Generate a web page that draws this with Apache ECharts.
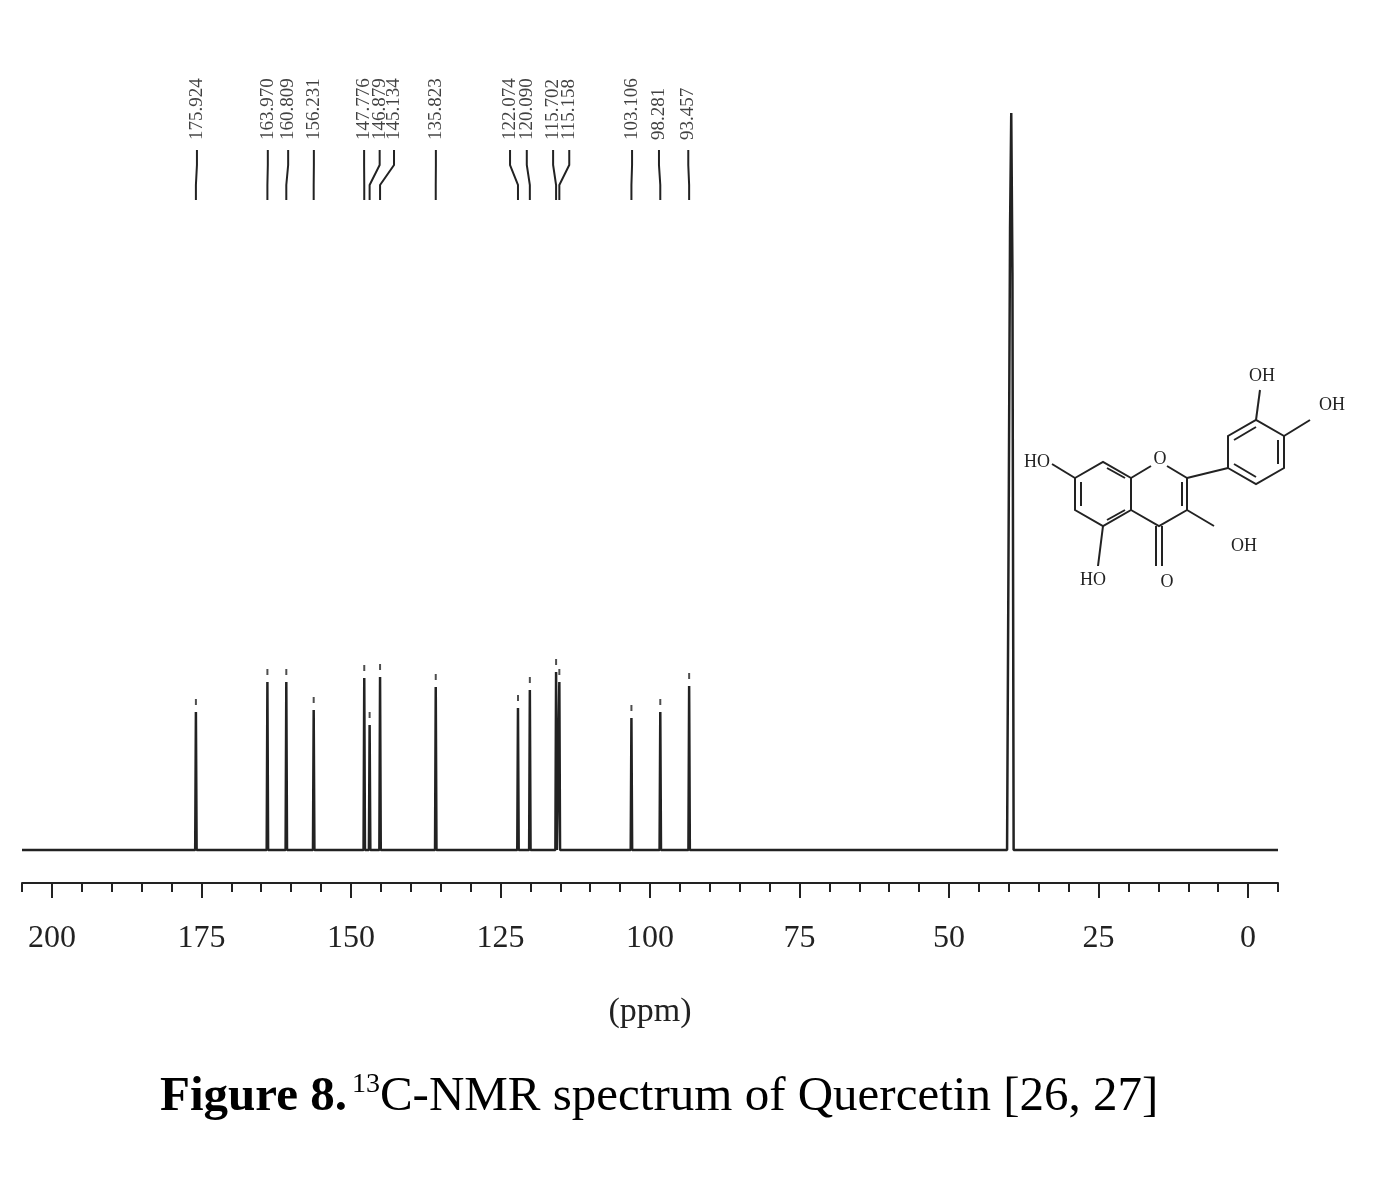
<!DOCTYPE html>
<html><head><meta charset="utf-8">
<script src="https://cdn.jsdelivr.net/npm/echarts@6/dist/echarts.min.js"></script>
<style>html,body{margin:0;background:#fff}#c{width:1397px;height:1188px}</style>
</head><body><div id="c"></div>
<script>
// peak shifts (ppm) and heights (arbitrary units above axis)
const peakPpm = [175.924,163.970,160.809,156.231,147.776,146.879,145.134,135.823,122.074,120.090,115.702,115.158,103.106,98.281,93.457];
const peakHeight = [171,201,201,173,205,158,206,196,175,193,211,201,165,171,197];
const peakLabels = ["175.924","163.970","160.809","156.231","147.776","146.879","145.134","135.823","122.074","120.090","115.702","115.158","103.106","98.281","93.457"];
const labelPpm = [175.75,163.9,160.5,156.2,147.8,145.2,142.8,135.8,123.4,120.6,116.2,113.5,103.0,98.5,93.6];
const solventPpm = [40.3,40.0,39.8,39.6,39.4,39.2];
const solventHeight = [33,400,655,770,610,33];
const baseLevel = 33;
const xTicks = [0,25,50,75,100,125,150,175,200];

const spec = [[205,baseLevel]];
const all = peakPpm.map((p,i)=>[p,peakHeight[i]]);
all.sort((a,b)=>b[0]-a[0]);
for(const [p,h] of all){spec.push([p+0.12,baseLevel],[p,h],[p-0.12,baseLevel]);}
solventPpm.forEach((p,i)=>spec.push([p,solventHeight[i]]));
spec.push([-5,baseLevel]);

const yTop=733, yBend1=718, yBend2=698, yBot=683;
const connectors = peakPpm.map((p,i)=>({coords:[[labelPpm[i],yTop],[labelPpm[i],yBend1],[p,yBend2],[p,yBot]]}));

const chart = echarts.init(document.getElementById('c'));
const serif = 'Liberation Serif';
const g = [];
function line(pts){g.push({type:'polyline',shape:{points:pts},style:{stroke:'#222',lineWidth:2,fill:null}});}
function txt(x,y,t){g.push({type:'text',x:x,y:y,style:{text:t,font:'18px "Liberation Serif"',fill:'#222',align:'center',verticalAlign:'middle'}});}
line([[1075,478],[1103,462],[1131,478],[1131,510],[1103,526],[1075,510],[1075,478]]);
line([[1081,482],[1081,506]]); line([[1107,520],[1125,510]]); line([[1107,468],[1125,478]]);
line([[1131,478],[1151,466]]); line([[1167,466],[1187,478],[1187,510],[1159,526],[1131,510]]);
line([[1182,482],[1182,506]]);
line([[1156,526],[1156,566]]); line([[1162,526],[1162,566]]);
line([[1187,510],[1214,526]]);
line([[1075,478],[1052,464]]); line([[1103,526],[1098,566]]);
line([[1187,478],[1228,468]]);
line([[1228,468],[1228,436],[1256,420],[1284,436],[1284,468],[1256,484],[1228,468]]);
line([[1234,440],[1256,427]]); line([[1278,440],[1278,464]]); line([[1234,464],[1256,477]]);
line([[1256,420],[1260,390]]); line([[1284,436],[1310,420]]);
txt(1037,462,'HO'); txt(1160,459,'O'); txt(1244,546,'OH'); txt(1093,580,'HO'); txt(1167,582,'O');
txt(1262,376,'OH'); txt(1332,405,'OH');

const axisBase = {type:'value',inverse:true,min:-5,max:205,position:'bottom',splitLine:{show:false}};
chart.setOption({
  animation:false,
  title:{left:155,top:1066,text:'{b|Figure 8.} {s|13}{n|C-NMR spectrum of Quercetin [26, 27]}',
    textStyle:{rich:{b:{fontFamily:serif,fontWeight:'bold',fontSize:49,color:'#000'},
      s:{fontFamily:serif,fontWeight:'normal',fontSize:28,color:'#000',verticalAlign:'top',padding:[0,0,24,0]},
      n:{fontFamily:serif,fontWeight:'normal',fontSize:49,color:'#000'}}}},
  grid:{left:22,right:119,top:50,bottom:305},
  xAxis:[
    Object.assign({},axisBase,{interval:5,
      axisLine:{lineStyle:{color:'#222',width:2}},
      axisTick:{length:9,lineStyle:{color:'#222',width:2}},
      axisLabel:{show:false}}),
    Object.assign({},axisBase,{interval:5,
      axisLine:{show:false},
      axisTick:{length:15,customValues:xTicks,lineStyle:{color:'#222',width:2}},
      axisLabel:{customValues:xTicks,fontFamily:serif,fontSize:32,color:'#222',margin:40},
      name:'(ppm)',nameLocation:'middle',nameGap:112,nameTextStyle:{fontFamily:serif,fontSize:34,color:'#222'}})
  ],
  yAxis:{type:'value',min:0,max:833,show:false},
  series:[
    {type:'line',data:spec,symbol:'none',lineStyle:{color:'#222',width:2.5},z:3},
    {type:'scatter',data:peakPpm.map((p,i)=>[p,peakHeight[i]+10]),symbol:'rect',symbolSize:[2,6],itemStyle:{color:'#222'}},
    {type:'lines',coordinateSystem:'cartesian2d',polyline:true,data:connectors,lineStyle:{color:'#222',width:2,opacity:1}},
    {type:'scatter',data:labelPpm.map((p,i)=>({value:[p,743],name:peakLabels[i]})),symbolSize:0,
      label:{show:true,formatter:'{b}',rotate:90,position:'inside',align:'left',verticalAlign:'middle',
        fontFamily:serif,fontSize:19,color:'#111'}}
  ],
  graphic:g
});
</script></body></html>
